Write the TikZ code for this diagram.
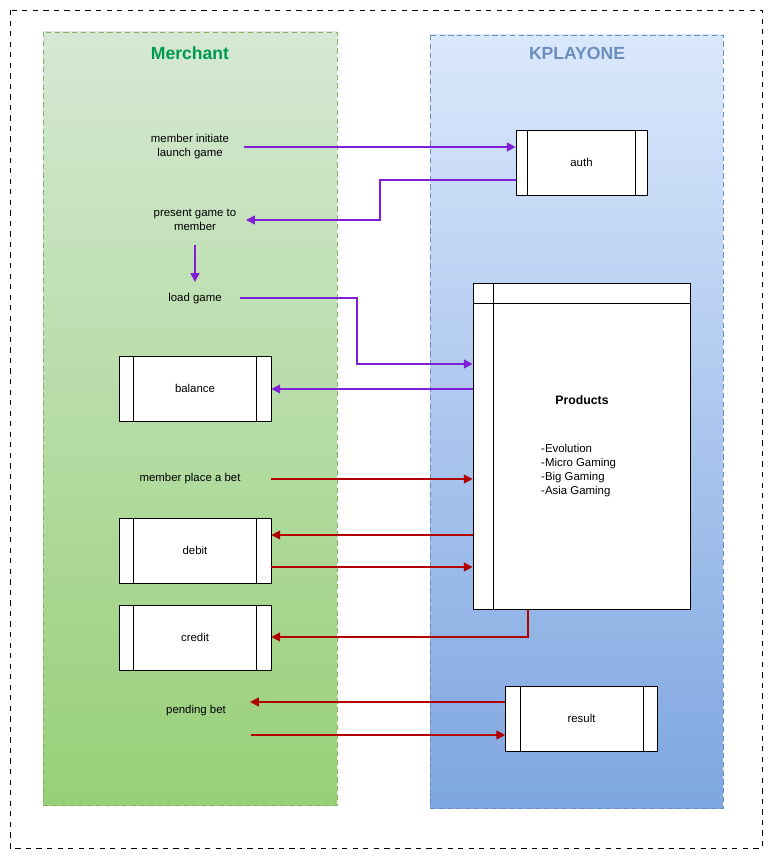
\documentclass[tikz,border=0pt]{standalone}
\usepackage{fontspec}
\setmainfont{Liberation Sans}
\usetikzlibrary{arrows.meta}
\definecolor{lanegreen}{HTML}{82B366}
\definecolor{laneblue}{HTML}{6C8EBF}
\definecolor{greentop}{HTML}{D5E8D4}
\definecolor{greenbot}{HTML}{97D077}
\definecolor{bluetop}{HTML}{DAE8FC}
\definecolor{bluebot}{HTML}{7EA6E0}
\definecolor{titlegreen}{HTML}{00994D}
\definecolor{flowpurple}{HTML}{7F1FD8}
\definecolor{flowred}{HTML}{B20000}
\tikzset{
	proc/.style={draw, fill=white, minimum width=152*0.02cm, minimum height=65*0.02cm, font=\fontsize{6.5}{8}\selectfont},
	txt/.style={align=center, font=\fontsize{6.5}{8}\selectfont},
	purp/.style={draw=flowpurple, line width=0.9pt, -{Triangle[length=5pt,width=5pt]}},
	redf/.style={draw=flowred, line width=0.9pt, -{Triangle[length=5pt,width=5pt]}}
}
\newcommand{\sides}[2]{\draw (#1.north west) ++(#2,0) -- ++(0,65) (#1.north east) ++(-#2,0) -- ++(0,65);}
\begin{document}
\begin{tikzpicture}[x=0.02cm, y=-0.02cm]

	\useasboundingbox (0,0) rectangle (772,857);
	\draw[dashed] (10,10) rectangle (762,848);

	% lanes
	\shade[top color=greentop, bottom color=greenbot] (43,32) rectangle (337,805);
	\draw[lanegreen, densely dashed] (43,32) rectangle (337,805);
	\shade[top color=bluetop, bottom color=bluebot] (430,35) rectangle (723,808);
	\draw[laneblue, densely dashed] (430,35) rectangle (723,808);
	\node[font=\bfseries\fontsize{10}{12}\selectfont, text=titlegreen] (mtitle) at (190,53) {Merchant};
	\node[font=\bfseries\fontsize{10}{12}\selectfont, text=laneblue] (ktitle) at (577,53) {KPLAYONE};

	% boxes
	\node[proc, minimum width=131*0.02cm] (auth) at (581.5,162.5) {auth};
	\sides{auth}{12}
	\node[proc] (balance) at (195,388.5) {balance};
	\sides{balance}{15}
	\node[proc] (debit) at (195,550.5) {debit};
	\sides{debit}{15}
	\node[proc] (credit) at (195,637.5) {credit};
	\sides{credit}{15}
	\node[proc] (result) at (581.5,718.5) {result};
	\sides{result}{15}
	\node[draw, fill=white, minimum width=217*0.02cm, minimum height=326*0.02cm] (prod) at (581.5,446) {};
	\draw (prod.north west) ++(0,21) -- ++(217,0) (prod.north west) ++(21,0) -- ++(0,326);
	\node[txt, font=\fontsize{7}{8.5}\selectfont\bfseries] (ptitle) at (582,400) {Products};
	\node[txt, align=left, anchor=north west] (plist) at (535,438) {-Evolution\\-Micro Gaming\\-Big Gaming\\-Asia Gaming};

	% texts
	\node[txt] (launch) at (190,147) {member initiate\\launch game};
	\node[txt] (present) at (195,220) {present game to\\member};
	\node[txt] (load) at (195,299) {load game};
	\node[txt] (bet) at (190,479) {member place a bet};
	\node[txt] (pending) at (196,711) {pending bet};

	% purple flows
	\draw[purp] (244,147) -- (auth.west |- 0,147);
	\draw[purp] (auth.west |- 0,180) -- (380,180) -- (380,220) -- (246,220);
	\draw[purp] (195,245) -- (195,282);
	\draw[purp] (240,298) -- (357,298) -- (357,364) -- (prod.west |- 0,364);
	\draw[purp] (prod.west |- 0,389) -- (balance.east |- 0,389);

	% red flows
	\draw[redf] (271,479) -- (prod.west |- 0,479);
	\draw[redf] (prod.west |- 0,535) -- (debit.east |- 0,535);
	\draw[redf] (debit.east |- 0,567) -- (prod.west |- 0,567);
	\draw[redf] (528,609) -- (528,637) -- (credit.east |- 0,637);
	\draw[redf] (result.west |- 0,702) -- (250,702);
	\draw[redf] (251,735) -- (result.west |- 0,735);
\end{tikzpicture}
\end{document}
